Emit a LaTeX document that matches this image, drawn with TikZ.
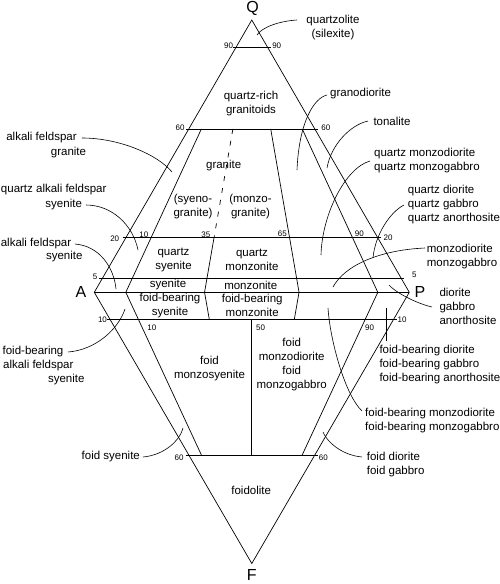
\documentclass[tikz,border=0pt]{standalone}
\usepackage{fontspec}
\setmainfont{Liberation Sans}
\begin{document}
\begin{tikzpicture}[x=1pt,y=-1pt,
  edge/.style={line width=0.7pt},
  lead/.style={line width=0.6pt},
  lbl/.style={font=\fontsize{11.5}{14}\selectfont, inner sep=0pt, align=center},
  lbll/.style={lbl, align=left, anchor=west},
  tk/.style={font=\fontsize{8}{9}\selectfont, inner sep=0pt},
  vtx/.style={font=\fontsize{16}{19}\selectfont, inner sep=0pt}]
\useasboundingbox (0,0) rectangle (500,584);
% vertices
\coordinate (Q) at (251.8,20);
\coordinate (A) at (94.3,292.3);
\coordinate (P) at (409.3,292.3);
\coordinate (F) at (251.8,563.5);
\draw[edge] (Q) -- (A) -- (F) -- (P) -- cycle;
\draw[edge] (A) -- (P);
% horizontal lines
\draw[edge] (233,47.2) -- (270.5,47.2);
\draw[edge] (185.8,128.9) -- (317.8,128.9);
\draw[edge] (122.8,237.8) -- (380.8,237.8);
\draw[edge] (99.2,278.7) -- (404.4,278.7);
\draw[edge] (107,319.4) -- (396.6,319.4);
\draw[edge] (185.8,455) -- (317.8,455);
% ratio lines
\draw[edge] (201.4,128.9) -- (125.8,292.3) -- (201.4,455);
\draw[edge, dash pattern=on 5pt off 7pt] (232.9,128.9) -- (214,237.8);
\draw[edge] (214,237.8) -- (204.55,292.3) -- (209.3,319.4);
\draw[edge] (270.7,128.9) -- (299.05,292.3) -- (294.3,319.4);
\draw[edge] (302.2,128.9) -- (377.8,292.3) -- (302.2,455);
\draw[edge] (251.8,319.4) -- (251.8,455);
% vertex labels
\node[vtx] (lQ) at (252.7,8.5) {Q};
\node[vtx] (lA) at (81,291.7) {A};
\node[vtx] (lP) at (420,291.7) {P};
\node[vtx] (lF) at (251.7,575) {F};
% ticks
\node[tk] (t1) at (228.5,45.7) {90};
\node[tk] (t2) at (276.7,45.7) {90};
\node[tk] (t3) at (180,127.7) {60};
\node[tk] (t4) at (325.8,127.7) {60};
\node[tk] (t5) at (114.7,239) {20};
\node[tk] (t6) at (143.8,234.3) {10};
\node[tk] (t7) at (205.8,234.3) {35};
\node[tk] (t8) at (282.3,233.3) {65};
\node[tk] (t9) at (359.3,233.3) {90};
\node[tk] (t10) at (388,237.3) {20};
\node[tk] (t11) at (95,276.7) {5};
\node[tk] (t12) at (414.3,275) {5};
\node[tk] (t13) at (102.5,319.3) {10};
\node[tk] (t14) at (151.8,327.7) {10};
\node[tk] (t15) at (260.5,327.7) {50};
\node[tk] (t16) at (369.5,327.3) {90};
\node[tk] (t17) at (402,319.3) {10};
\node[tk] (t18) at (179,457.3) {60};
\node[tk] (t19) at (323.3,457.3) {60};
% region labels
\node[lbl] (r1) at (251,103.3) {quartz-rich\\granitoids};
\node[lbl] (r2) at (223.7,166) {granite};
\node[lbl] (r3) at (193,206.7) {(syeno-\\granite)};
\node[lbl] (r4) at (250.5,206.7) {(monzo-\\granite)};
\node[lbl] (r5) at (173.5,260) {quartz\\syenite};
\node[lbl] (r6) at (252,260) {quartz\\monzonite};
\node[lbl] (r7) at (168,284.6) {syenite};
\node[lbl] (r8) at (250.8,285) {monzonite};
\node[lbl] (r9) at (170,305.7) {foid-bearing\\syenite};
\node[lbl] (r10) at (252.2,305.7) {foid-bearing\\monzonite};
\node[lbl] (r11) at (209.5,368.3) {foid\\monzosyenite};
\node[lbl] (r12) at (291.7,364.7) {foid\\monzodiorite\\foid\\monzogabbro};
\node[lbl] (r13) at (251.2,490) {foidolite};
% right labels
\node[lbl] (n1) at (333,27.5) {quartzolite\\(silexite)};
\node[lbll] (n2) at (330,94) {granodiorite};
\node[lbll] (n3) at (373.3,121.7) {tonalite};
\node[lbll] (n4) at (374,160.8) {quartz monzodiorite\\quartz monzogabbro};
\node[lbll] (n5) at (407.7,205) {quartz diorite\\quartz gabbro\\quartz anorthosite};
\node[lbll] (n6) at (426.7,256.7) {monzodiorite\\monzogabbro};
\node[lbll] (n7) at (439.3,306.7) {diorite\\gabbro\\anorthosite};
\node[lbll] (n8) at (379.3,364.4) {foid-bearing diorite\\foid-bearing gabbro\\foid-bearing anorthosite};
\node[lbll] (n9) at (365,420.2) {foid-bearing monzodiorite\\foid-bearing monzogabbro};
\node[lbll] (n10) at (366.7,464.5) {foid diorite\\foid gabbro};
% left labels (line by line)
\node[lbl] (m1a) at (41.5,138) {alkali feldspar};
\node[lbl] (m1b) at (68.5,152.7) {granite};
\node[lbl] (m2a) at (53.7,190) {quartz alkali feldspar};
\node[lbl] (m2b) at (63.7,205) {syenite};
\node[lbl] (m3a) at (36,243.3) {alkali feldspar};
\node[lbl] (m3b) at (64.3,257) {syenite};
\node[lbl] (m4a) at (33,351.7) {foid-bearing};
\node[lbl] (m4b) at (38.3,366) {alkali feldspar};
\node[lbl] (m4c) at (66.3,380) {syenite};
\node[lbl] (m5) at (110.8,457) {foid syenite};
% leader end points
\coordinate (s1) at (297,20);   \coordinate (e1) at (257,35);
\coordinate (s2) at (327,95);   \coordinate (e2) at (297,170);
\coordinate (s3) at (368,121);  \coordinate (e3) at (327,168);
\coordinate (s4) at (370,161);  \coordinate (e4) at (321,255);
\coordinate (s5) at (404,205);  \coordinate (e5) at (373,258);
\coordinate (s6) at (425,248);  \coordinate (e6) at (333,287);
\coordinate (s7) at (432,307);  \coordinate (e7) at (389,285);
\coordinate (s8) at (386,308);  \coordinate (e8) at (386,341);
\coordinate (s9) at (362,411);  \coordinate (e9) at (328,308);
\coordinate (s10) at (362,457); \coordinate (e10) at (323,432);
\coordinate (s11) at (82,138);  \coordinate (e11) at (172,172);
\coordinate (s12) at (86,205);  \coordinate (e12) at (138,250);
\coordinate (s13) at (75,244);  \coordinate (e13) at (116,289);
\coordinate (s14) at (68,352);  \coordinate (e14) at (125,309);
\coordinate (s15) at (143,457); \coordinate (e15) at (183,428);
% leaders
\draw[lead] (s1) .. controls (280,21) and (262,27) .. (e1);
\draw[lead] (s2) .. controls (314,98) and (299,122) .. (e2);
\draw[lead] (s3) .. controls (350,125) and (331,145) .. (e3);
\draw[lead] (s4) .. controls (345,168) and (322,215) .. (e4);
\draw[lead] (s5) .. controls (390,212) and (375,235) .. (e5);
\draw[lead] (s6) .. controls (380,250) and (345,265) .. (e6);
\draw[lead] (s7) .. controls (415,303) and (395,292) .. (e7);
\draw[lead] (s8) -- (e8);
\draw[lead] (s9) .. controls (345,395) and (330,340) .. (e9);
\draw[lead] (s10) .. controls (340,455) and (326,440) .. (e10);
\draw[lead] (s11) .. controls (120,138) and (158,155) .. (e11);
\draw[lead] (s12) .. controls (112,205) and (133,225) .. (e12);
\draw[lead] (s13) .. controls (100,246) and (114,268) .. (e13);
\draw[lead] (s14) .. controls (95,350) and (118,330) .. (e14);
\draw[lead] (s15) .. controls (165,455) and (180,440) .. (e15);
\end{tikzpicture}
\end{document}
